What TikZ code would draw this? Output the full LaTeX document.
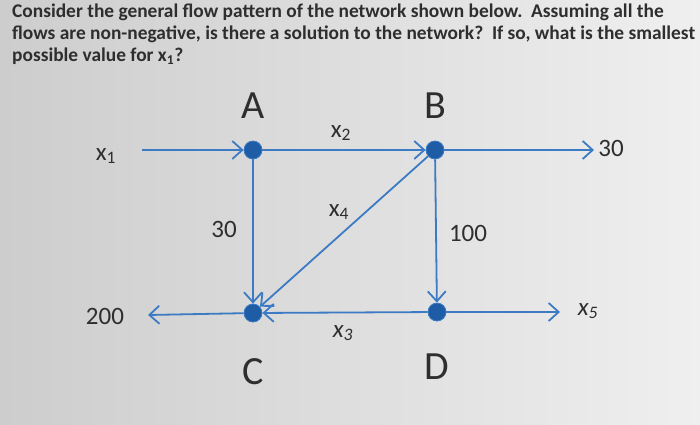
\documentclass[tikz,border=0pt]{standalone}
\usepackage{fontspec}
\setmainfont{Carlito}
\usetikzlibrary{arrows.meta}
\definecolor{lineblue}{HTML}{3C7BC4}
\definecolor{dotblue}{HTML}{1F5CA6}
\definecolor{txt}{HTML}{2E2E2E}
\definecolor{bgl}{HTML}{CDCDCD}
\definecolor{bgr}{HTML}{EFEFEF}
\tikzset{
  flow/.style={draw=lineblue, line width=1.8pt, -{Straight Barb[length=10pt,width=18pt,line width=1.8pt]}},
  junction/.style={circle, fill=dotblue, draw=lineblue, line width=0.8pt, minimum size=18pt, inner sep=0pt},
  bigl/.style={text=txt, font=\fontsize{40}{42}\selectfont},
  lab/.style={text=txt, font=\fontsize{25}{27}\selectfont},
}
\begin{document}
\begin{tikzpicture}[x=1pt,y=-1pt]
\shade[left color=bgl, right color=bgr] (0,0) rectangle (700,424);
\useasboundingbox (0,0) rectangle (700,424);
\node[anchor=north west, align=left, text=txt, inner sep=0pt,
  font=\bfseries\fontsize{19.4}{22}\selectfont] (title) at (12,4)
  {Consider the general flow pattern of the network shown below.\ \ Assuming all the\\
   flows are non-negative, is there a solution to the network?\ \ If so, what is the smallest\\
   possible value for x\textsubscript{1}?};
% junctions
\node[junction] (A) at (253,150) {};
\node[junction] (B) at (435,150) {};
\node[junction] (C) at (253,313) {};
\node[junction] (D) at (437,312) {};
% labels of junctions
\node[bigl] (lA) at (253,106) {A};
\node[bigl] (lB) at (435,106) {B};
\node[bigl] (lC) at (253,372) {C};
\node[bigl] (lD) at (437,367) {D};
% free ends
\coordinate (in1) at (142,150);
\coordinate (outB) at (594,150);
\coordinate (outC) at (148,315);
\coordinate (outD) at (560,312);
% connectors
\draw[flow] (in1) -- (A);
\draw[flow] (A) -- (B);
\draw[flow] (B) -- (outB);
\draw[flow] (A) -- (C);
\draw[flow] (B) -- (C);
\draw[flow] (B) -- (D);
\draw[flow] (D) -- (C);
\draw[flow] (C) -- (outC);
\draw[flow] (D) -- (outD);
% edge labels
\node[lab] (x1) at (106,156) {x\textsubscript{1}};
\node[lab] (x2) at (341,133) {x\textsubscript{2}};
\node[lab] (x4) at (339,212) {x\textsubscript{4}};
\node[lab] (x3) at (343,333) {\itshape x\textsubscript{3}};
\node[lab] (x5) at (588,311) {\itshape x\textsubscript{5}};
\node[lab] (t30a) at (224,229) {30};
\node[lab] (t30b) at (611,148) {30};
\node[lab] (t100) at (468,233) {100};
\node[lab] (t200) at (105,316) {200};
\end{tikzpicture}
\end{document}
